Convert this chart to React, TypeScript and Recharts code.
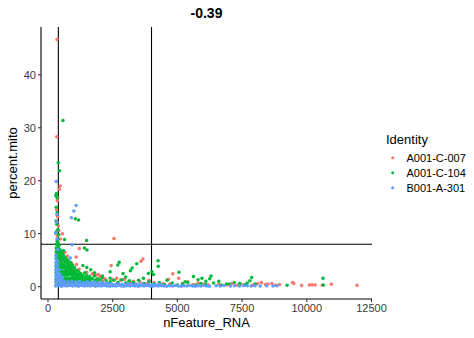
import React from 'react';
import { ScatterChart, Scatter, XAxis, YAxis, ReferenceLine } from 'recharts';

const RED = '#F8766D';
const GREEN = '#00BA38';
const BLUE = '#619CFF';

const titleText = '-0.39';
const xTitle = 'nFeature_RNA';
const yTitle = 'percent.mito';
const legendTitle = 'Identity';
const identities = ['A001-C-007', 'A001-C-104', 'B001-A-301'];
const identityColors = [RED, GREEN, BLUE];
const xTicks = [0, 2500, 5000, 7500, 10000, 12500];
const yTicks = [0, 10, 20, 30, 40];
const xThresholds = [400, 4000];
const yThreshold = 8;

const redPoints: [number, number][] = [
  [350, 46.7], [340, 28.3], [470, 19.0], [440, 18.4], [380, 16.8], [360, 16.2], [330, 14.5], [370, 13.2],
  [350, 12.2], [400, 11.5], [420, 10.6], [360, 9.6], [480, 9.0], [560, 10.0], [2550, 9.1], [1210, 7.2],
  [1090, 5.6], [3670, 5.2], [3600, 4.8], [2440, 4.0], [4820, 2.45], [4650, 1.4], [3900, 1.2], [3300, 1.0],
  [5050, 1.6], [1100, 4.2], [1200, 3.3], [1500, 2.7], [1700, 2.4], [1850, 2.2], [2000, 1.9], [2200, 1.5],
  [2500, 1.3], [2800, 1.2], [3100, 0.9], [900, 4.5], [750, 5.8], [650, 6.5], [800, 3.0], [600, 2.5],
  [1000, 1.8], [1300, 1.2], [1600, 1.0], [1900, 0.8], [2300, 0.6], [2700, 0.7], [3400, 0.5], [3800, 0.6],
  [4300, 0.4], [4700, 0.5], [5200, 0.6], [5600, 0.4], [6000, 0.5], [6200, 0.3], [6600, 0.5], [6900, 0.3],
  [7300, 0.25], [7600, 0.4], [7900, 0.3], [8100, 0.6], [8250, 0.8], [8400, 0.4], [8500, 0.5], [8650, 0.6],
  [8800, 0.3], [8950, 0.4], [9450, 0.8], [9500, 0.6], [9800, 0.2], [10100, 0.3], [10200, 0.35], [10320, 0.3],
  [10600, 0.25], [10950, 0.45], [11940, 0.25], [500, 0.8], [700, 1.2], [450, 3.5], [550, 4.8], [350, 5.5],
  [400, 7.8], [380, 8.5], [330, 6.5], [1750, 2.5], [1950, 2.3], [2100, 1.1], [2650, 1.6], [2950, 1.4],
  [3200, 0.7], [3550, 0.9], [4100, 0.8], [4450, 0.6], [5400, 0.9], [5800, 0.7], [7100, 0.6], [7450, 0.5],
  [8000, 0.2],
];

const greenPoints: [number, number][] = [
  [578, 31.4], [397, 23.4], [448, 21.9], [330, 17.6], [300, 17.2], [350, 16.8], [320, 15.0], [360, 14.0],
  [310, 12.4], [340, 11.8], [380, 10.8], [330, 10.4], [300, 10.1], [420, 9.8], [1053, 12.8], [1181, 12.6],
  [641, 8.9], [1490, 8.7], [1406, 7.3], [1508, 6.9], [2750, 4.6], [2700, 4.1], [3430, 4.3], [4254, 4.9],
  [4260, 3.85], [3250, 3.5], [4010, 2.85], [3880, 2.5], [4075, 2.3], [3186, 3.0], [3689, 1.6], [5060, 2.7],
  [5620, 1.9], [5800, 1.3], [6300, 2.0], [6250, 1.5], [6100, 1.0], [5950, 1.6], [7870, 1.7], [7800, 1.1],
  [7700, 0.7], [6600, 1.0], [6900, 0.5], [7200, 0.8], [9240, 0.25], [10630, 1.6], [10640, 0.3], [5300, 0.9],
  [4600, 1.2], [3000, 1.8], [2900, 2.5], [2400, 2.8], [2100, 2.0], [1800, 2.6], [1650, 3.2], [1500, 3.6],
  [1350, 4.0],
  [320, 0.8], [320, 1.4], [320, 2.0], [320, 2.7], [320, 3.3], [320, 4.0], [320, 4.6], [320, 5.3], [320, 6.0], [320, 6.6], [320, 7.3], [320, 8.0],
  [390, 0.9], [390, 1.6], [390, 2.3], [390, 3.1], [390, 3.8], [390, 4.5], [390, 5.2], [390, 5.9], [390, 6.7], [390, 7.4], [390, 8.2], [390, 9.0],
  [460, 0.7], [460, 1.3], [460, 2.0], [460, 2.6], [460, 3.3], [460, 4.0], [460, 4.7], [460, 5.5], [460, 6.2], [460, 7.0],
  [530, 0.8], [530, 1.5], [530, 2.2], [530, 2.9], [530, 3.6], [530, 4.3], [530, 5.0], [530, 5.8], [530, 6.6],
  [600, 0.6], [600, 1.3], [600, 2.0], [600, 2.8], [600, 3.5], [600, 4.2], [600, 5.0], [600, 5.9], [600, 6.8],
  [670, 0.9], [670, 1.6], [670, 2.3], [670, 3.0], [670, 3.8], [670, 4.6], [670, 5.4],
  [740, 0.7], [740, 1.4], [740, 2.1], [740, 2.9], [740, 3.7], [740, 4.5], [740, 5.1],
  [810, 0.9], [810, 1.6], [810, 2.4], [810, 3.2], [810, 4.0], [810, 4.8],
  [880, 0.8], [880, 1.5], [880, 2.2], [880, 3.0], [880, 3.8], [880, 4.4],
  [950, 0.9], [950, 1.7], [950, 2.5], [950, 3.3], [950, 4.1],
  [1020, 0.7], [1020, 1.4], [1020, 2.1], [1020, 2.9], [1020, 3.6],
  [1100, 0.9], [1100, 1.6], [1100, 2.4], [1100, 3.1],
  [1180, 0.8], [1180, 1.5], [1180, 2.3], [1180, 2.9],
  [1260, 1.0], [1260, 1.7], [1260, 2.5],
  [1340, 0.8], [1340, 1.5], [1340, 2.2],
  [1420, 1.0], [1420, 1.8], [1420, 2.6],
  [1500, 0.8], [1500, 1.5], [1500, 2.1],
  [1600, 1.1], [1600, 1.9], [1700, 0.8], [1700, 1.6], [1800, 1.2], [1800, 2.0], [1900, 0.9], [1900, 1.5],
  [2000, 1.3], [2100, 0.8], [2100, 1.7], [2250, 1.1], [2400, 0.9], [2400, 1.6], [2550, 1.2], [2700, 0.8],
  [2850, 1.3], [3000, 0.7], [3150, 1.1], [3300, 0.8], [3500, 1.2], [3700, 0.6], [3900, 0.9], [4100, 0.5],
  [4300, 0.8], [4500, 0.4], [4800, 0.7], [5000, 0.3], [5200, 0.5], [5400, 0.8], [5700, 0.3], [5900, 0.6],
  [6100, 0.4], [6400, 0.7], [6700, 0.3], [7000, 0.5], [7400, 0.6], [7600, 0.3], [8000, 0.5],
  [355, 1.2], [355, 2.6], [355, 4.2], [355, 5.6], [355, 7.0], [355, 8.6],
  [425, 1.0], [425, 2.3], [425, 3.6], [425, 5.0], [425, 6.4], [425, 7.8],
  [495, 1.1], [495, 2.4], [495, 3.8], [495, 5.2], [495, 6.5],
  [565, 1.0], [565, 2.5], [565, 3.9], [565, 5.4], [565, 6.2],
  [635, 1.2], [635, 2.6], [635, 4.0], [635, 5.5],
  [705, 1.0], [705, 2.5], [705, 3.4], [705, 4.9],
  [775, 1.2], [775, 2.7], [775, 4.2],
  [845, 1.1], [845, 2.6], [845, 3.5],
  [915, 1.3], [915, 2.8], [915, 3.7],
  [985, 1.1], [985, 2.2], [985, 3.0],
  [1060, 1.2], [1060, 2.6], [1140, 1.1], [1140, 2.0], [1220, 1.3], [1220, 2.2],
  [1300, 1.1], [1300, 1.9], [1380, 1.3], [1460, 1.2], [1550, 1.6], [1650, 1.4],
];

const bluePoints: [number, number][] = [
  [320, 19.85], [1090, 15.3], [1000, 14.3], [900, 13.0], [340, 13.6], [330, 12.2], [310, 10.2], [350, 9.0],
  [925, 7.9], [860, 5.4], [380, 7.0],
  [310, 0.3], [310, 1.0], [310, 1.7], [310, 2.4], [310, 3.1], [310, 3.8], [310, 4.5], [310, 5.2], [310, 5.9],
  [370, 0.5], [370, 1.2], [370, 1.9], [370, 2.6], [370, 3.3], [370, 4.0], [370, 4.8],
  [430, 0.4], [430, 1.1], [430, 1.8], [430, 2.5], [430, 3.2], [490, 0.6], [490, 1.3], [490, 2.0],
  [560, 0.4], [560, 1.1], [560, 1.7],
  [300, 0.1], [410, 0.2], [515, 0.05], [630, 0.15], [740, 0.1], [850, 0.2], [955, 0.1], [1070, 0.15],
  [1180, 0.05], [1290, 0.2], [1400, 0.1], [1505, 0.15], [1620, 0.1], [1730, 0.2], [1840, 0.05], [1950, 0.15],
  [2060, 0.1], [2170, 0.2], [2275, 0.1], [2390, 0.05], [2500, 0.15], [2610, 0.1], [2720, 0.2], [2830, 0.1],
  [2940, 0.05], [3050, 0.15], [3160, 0.1], [3270, 0.2], [3380, 0.1], [3490, 0.05], [3600, 0.15], [3710, 0.1],
  [3820, 0.2], [3930, 0.1], [4040, 0.05], [4150, 0.15], [4260, 0.1], [4370, 0.2], [4480, 0.1], [4590, 0.05],
  [4700, 0.15], [4810, 0.1], [4920, 0.2], [5030, 0.1], [5140, 0.05], [5250, 0.15], [5360, 0.1], [5470, 0.2],
  [5580, 0.1], [5690, 0.05], [5800, 0.15], [5910, 0.1], [6020, 0.2], [6130, 0.1], [6240, 0.05],
  [650, 0.55], [780, 0.5], [910, 0.6], [1040, 0.5], [1170, 0.55], [1300, 0.45], [1430, 0.6], [1560, 0.5],
  [1690, 0.55], [1820, 0.45], [1950, 0.6], [2080, 0.5], [2210, 0.45], [2340, 0.55], [2470, 0.5], [2600, 0.4],
  [2730, 0.5], [2860, 0.45], [2990, 0.4], [3120, 0.5], [3250, 0.4], [3380, 0.45], [3510, 0.4], [3640, 0.5],
  [3770, 0.35], [3900, 0.4], [4030, 0.45], [4160, 0.35], [4290, 0.4], [4420, 0.3],
  [620, 0.95], [770, 0.9], [920, 1.0], [1070, 0.85], [1220, 0.95], [1370, 0.8], [1520, 0.9], [1670, 0.8],
  [1820, 0.85], [1970, 0.75], [2120, 0.8], [2270, 0.7],
  [6500, 0.15], [6650, 0.1], [6800, 0.2], [7050, 0.1], [7200, 0.15], [7400, 0.1], [7550, 0.2], [7700, 0.15],
  [7850, 0.1], [8000, 0.15], [8200, 0.1], [8450, 0.15], [8700, 0.1], [8850, 0.15],
];

const toData = (pts: [number, number][]) => pts.map(([x, y]) => ({ x, y }));
const redData = toData(redPoints);
const greenData = toData(greenPoints);
const blueData = toData(bluePoints);

const FONT = '"Liberation Sans", Arial, Helvetica, sans-serif';

const dot = (color: string) => (props: any) => (
  <circle cx={props.cx} cy={props.cy} r={1.75} fill={color} />
);

export default function App() {
  return (
    <div style={{ position: 'absolute', left: 0, top: 0, width: 474, height: 338, background: '#fff' }}>
      <ScatterChart width={474} height={338} margin={{ top: 27, right: 102, bottom: 0, left: 0 }}>
        <XAxis
          type="number"
          dataKey="x"
          domain={[-270, 12520]}
          allowDataOverflow
          ticks={xTicks}
          height={39}
          tickSize={3}
          tickMargin={2}
          axisLine={{ stroke: '#000', strokeWidth: 1.1 }}
          tickLine={{ stroke: '#333', strokeWidth: 1.1 }}
          tick={{ fill: '#3a3a3a', fontSize: 11, fontFamily: FONT }}
        />
        <YAxis
          type="number"
          dataKey="y"
          domain={[-2.34, 49.04]}
          allowDataOverflow
          ticks={yTicks}
          width={41}
          tickSize={3}
          tickMargin={2}
          axisLine={{ stroke: '#000', strokeWidth: 1.1 }}
          tickLine={{ stroke: '#333', strokeWidth: 1.1 }}
          tick={{ fill: '#3a3a3a', fontSize: 11, fontFamily: FONT }}
        />
        <Scatter data={redData} fill={RED} shape={dot(RED)} isAnimationActive={false} />
        <Scatter data={greenData} fill={GREEN} shape={dot(GREEN)} isAnimationActive={false} />
        <Scatter data={blueData} fill={BLUE} shape={dot(BLUE)} isAnimationActive={false} />
        {xThresholds.map((v) => (
          <ReferenceLine key={v} x={v} stroke="#000" strokeWidth={1.1} />
        ))}
        <ReferenceLine y={yThreshold} stroke="#000" strokeWidth={1.1} />
      </ScatterChart>
      <svg
        width={474}
        height={338}
        style={{ position: 'absolute', left: 0, top: 0, pointerEvents: 'none' }}
      >
        <text x={206.5} y={18} textAnchor="middle" fontFamily={FONT} fontSize={14} fontWeight="bold" fill="#000">
          {titleText}
        </text>
        <text x={206.5} y={327} textAnchor="middle" fontFamily={FONT} fontSize={13} fill="#000">
          {xTitle}
        </text>
        <text
          x={17}
          y={163}
          textAnchor="middle"
          fontFamily={FONT}
          fontSize={13}
          fill="#000"
          transform="rotate(-90 17 163)"
        >
          {yTitle}
        </text>
        <text x={386} y={144} fontFamily={FONT} fontSize={13} fill="#000">
          {legendTitle}
        </text>
        {identities.map((name, i) => (
          <g key={name}>
            <circle cx={392.7} cy={157.7 + i * 15} r={1.5} fill={identityColors[i]} />
            <text x={406.5} y={161.7 + i * 15} fontFamily={FONT} fontSize={11} fill="#000">
              {name}
            </text>
          </g>
        ))}
      </svg>
    </div>
  );
}
